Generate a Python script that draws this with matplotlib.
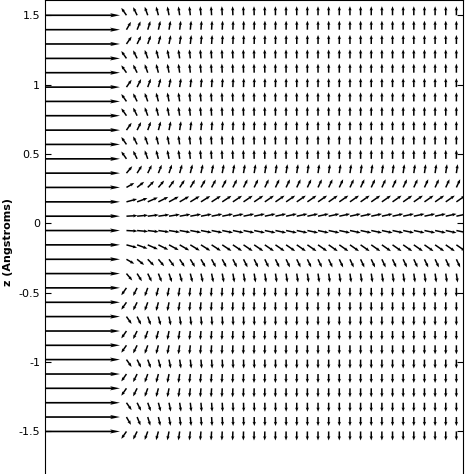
import numpy as np
import matplotlib
matplotlib.use("Agg")
import matplotlib.pyplot as plt

# row heights (upper half, mirrored below)
z_rows = [0.0517, 0.155, 0.259, 0.362, 0.465, 0.569, 0.672, 0.776, 0.879, 0.982, 1.086, 1.189, 1.293, 1.396, 1.500]
# elevation (deg from +x) of the arrow next to the wall, and far away
elev_near = [3, 15, 30, 50, 125, 125, 55, 125, 125, 55, 125, 125, 55, 60, 125]
elev_far = [12, 35, 65, 82, 90, 90, 90, 90, 90, 90, 90, 90, 90, 90, 90]
first_len = 75      # pixel length of wall arrows
arrow_len = 9       # pixel length of field arrows
n_cols = 32

fig = plt.figure(figsize=(4.74, 4.74), dpi=100)
ax = fig.add_axes([45/474, -0.02, (463-45)/474, 1.02])
ax.set_xlim(0, 39)
ax.set_ylim(-1.875, 1.61)

zs = np.array(z_rows)
Zall = np.concatenate([-zs[::-1], zs])
en = np.concatenate([-np.array(elev_near)[::-1], elev_near])
ef = np.concatenate([-np.array(elev_far)[::-1], elev_far])

ax.quiver(np.zeros_like(Zall), Zall, np.full_like(Zall, first_len), np.zeros_like(Zall),
          angles='uv', scale_units='dots', scale=1, width=0.004, headwidth=2.5,
          headlength=6, headaxislength=5, color='black')

xs = 7.6 + np.arange(n_cols) * 0.993
X, Y = np.meshgrid(xs, Zall)
idx = np.arange(n_cols)[None, :]
th = np.deg2rad(ef[:, None] + (en - ef)[:, None] * np.exp(-idx / 3.5))
L = np.where(np.abs(Y) < 0.2, 11.0, arrow_len)
ax.quiver(X, Y, L*np.cos(th), L*np.sin(th), angles='uv', scale_units='dots', scale=1,
          width=0.0036, headwidth=2.2, headlength=2.8, headaxislength=2.5, color='black', pivot='tail')

ax.set_yticks([-1.5, -1, -0.5, 0, 0.5, 1, 1.5])
ax.set_yticklabels(['-1.5', '-1', '-0.5', '0', '0.5', '1', '1.5'], fontsize=8)
ax.set_xticks([])
ax.tick_params(axis='y', direction='in', right=True, length=4)
ax.set_ylabel('z (Angstroms)', fontsize=8, fontweight='bold')
fig.savefig('out.png', dpi=100)
